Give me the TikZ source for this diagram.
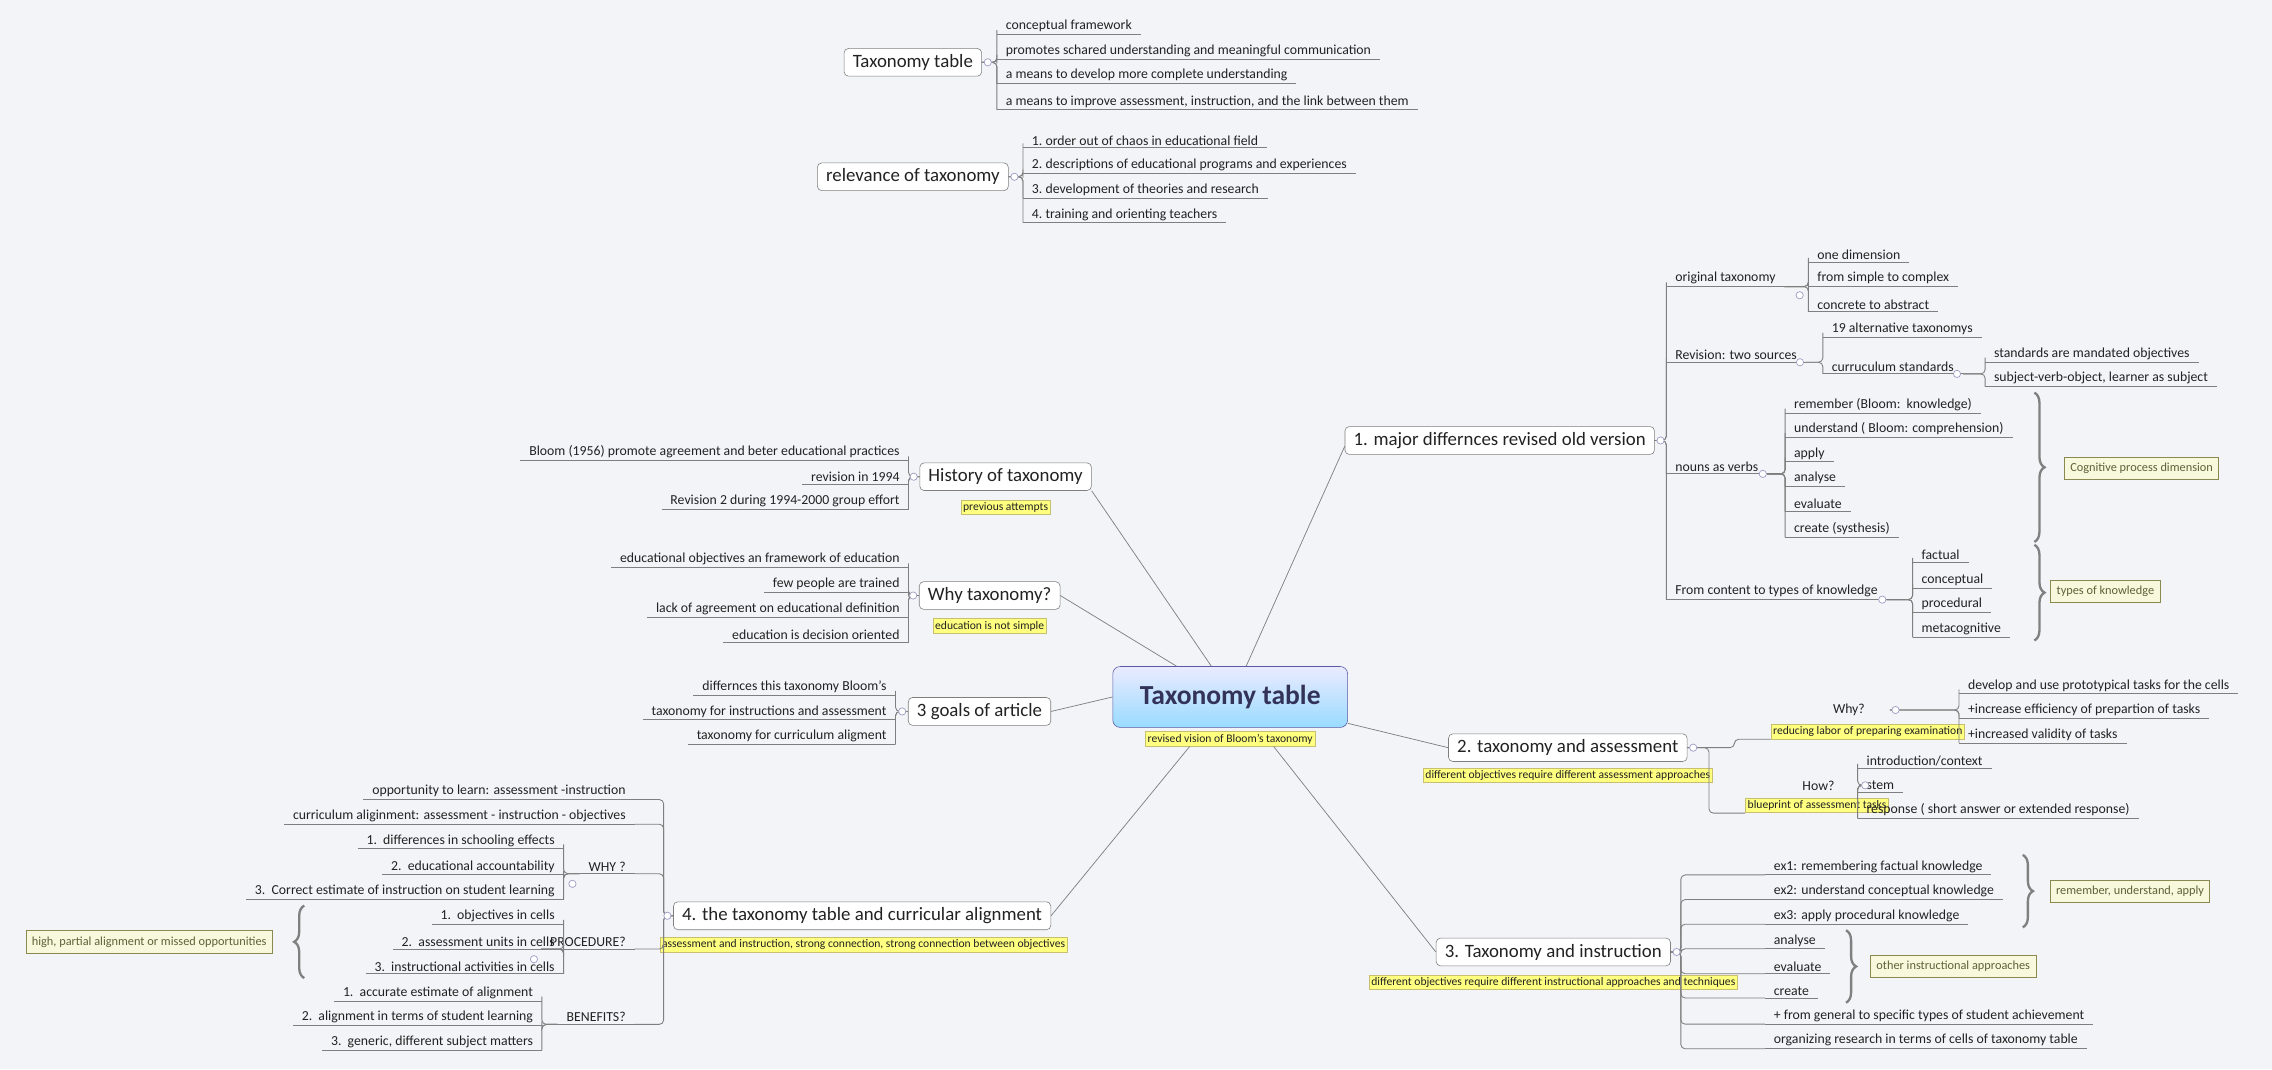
\documentclass[tikz,border=0pt]{standalone}
\usepackage{fontspec}
\setmainfont{Carlito}
\usetikzlibrary{decorations.pathreplacing}
\definecolor{bgc}{HTML}{F3F4F8}
\definecolor{lnc}{HTML}{7F7F7F}
\definecolor{txc}{HTML}{222222}
\definecolor{notef}{HTML}{FFFF80}
\definecolor{noted}{HTML}{C8C070}
\definecolor{sumf}{HTML}{F8F8DC}
\definecolor{sumd}{HTML}{8A8A50}
\tikzset{
  leaf/.style={anchor=west,inner xsep=6pt,inner ysep=1.5pt,text=txc,font=\fontsize{9.5}{11}\selectfont,
    append after command={(\tikzlastnode.south west) edge[draw=lnc,line width=0.6pt] (\tikzlastnode.south east)}},
  lleaf/.style={leaf,anchor=east},
  boxst/.style={draw=lnc,rounded corners=3pt,fill=white,text=txc,inner xsep=6pt,inner ysep=4pt,font=\fontsize{13}{15}\selectfont},
  note/.style={fill=notef,draw=noted,line width=0.5pt,inner sep=1.5pt,text=txc,font=\fontsize{8}{9}\selectfont},
  sumst/.style={fill=sumf,draw=sumd,line width=0.5pt,inner sep=4pt,text=sumd!70!black,font=\fontsize{8.5}{10}\selectfont},
  conn/.style={draw=lnc,line width=0.6pt,rounded corners=3pt},
  mline/.style={draw=lnc,line width=0.5pt},
  tog/.style={circle,draw=blue!25!gray!60,fill=white,inner sep=0pt,minimum size=5pt,line width=0.5pt},
  brc/.style={draw=gray,line width=1.6pt,decorate,decoration={brace,amplitude=7pt}}
}
\newcommand\rbr[3]{\draw[conn] (#1) -| ([xshift=-#3]#2.south west) -- (#2.south west);}
\newcommand\lbr[3]{\draw[conn] (#1) -| ([xshift=#3]#2.south east) -- (#2.south east);}
\begin{document}
\begin{tikzpicture}[x=1pt,y=-1pt]
\fill[bgc] (0,0) rectangle (1568,738);
\useasboundingbox (0,0) rectangle (1568,738);
% central
\node[draw=blue!30!gray,rounded corners=5pt,top color=blue!8,bottom color=blue!35!cyan!40,minimum width=162pt,minimum height=42pt,text=black!75!blue!60!gray,font=\fontsize{19}{21}\selectfont\bfseries] (m) at (849,481) {Taxonomy table};
\node[note] (mn) at (849,510) {revised vision of Bloom's taxonomy};
% top floating
\node[boxst] (tt) at (630,43) {Taxonomy table};
\node[leaf] (t1) at (688,18) {conceptual framework};
\node[leaf] (t2) at (688,35) {promotes schared understanding and meaningful communication};
\node[leaf] (t3) at (688,52) {a means to develop more complete understanding};
\node[leaf] (t4) at (688,70) {a means to improve assessment, instruction, and the link between them};
\foreach \c in {t1,t2,t3,t4}{\rbr{tt.east}{\c}{0}}
\node[tog] at ([xshift=4]tt.east) {};
\node[boxst] (rel) at (630,122) {relevance of taxonomy};
\node[leaf] (r1) at (706,97) {1.\ order out of chaos in educational field};
\node[leaf] (r2) at (706,114) {2.\ descriptions of educational programs and experiences};
\node[leaf] (r3) at (706,131) {3.\ development of theories and research};
\node[leaf] (r4) at (706,148) {4.\ training and orienting teachers};
\foreach \c in {r1,r2,r3,r4}{\rbr{rel.east}{\c}{0}}
\node[tog] at ([xshift=4]rel.east) {};
% branch 1
\node[boxst] (b1) at (1035,304) {1. major differnces revised old version};
\node[leaf] (ot) at (1150,192) {original taxonomy};
\node[leaf] (rv) at (1150,245) {Revision: two sources};
\node[leaf] (nv) at (1150,322) {nouns as verbs};
\node[leaf] (fc) at (1150,408) {From content to types of knowledge};
\foreach \c in {ot,rv,nv,fc}{\rbr{b1.east}{\c}{0}}
\node[tog] at ([xshift=4]b1.east) {};
\node[leaf] (o1) at (1248,176) {one dimension};
\node[leaf] (o2) at (1248,192) {from simple to complex};
\node[leaf] (o3) at (1248,210) {concrete to abstract};
\foreach \c in {o1,o2,o3}{\rbr{ot.south east}{\c}{0}}
\node[tog] at ([xshift=-6,yshift=-6]o2.south west) {};
\node[leaf] (v1) at (1258,227) {19 alternative taxonomys};
\node[leaf] (cs) at (1258,253) {curruculum standards};
\foreach \c in {v1,cs}{\rbr{rv.south east}{\c}{0}}
\node[tog] at ([xshift=-4]rv.south east) {};
\node[leaf] (s1) at (1370,244) {standards are mandated objectives};
\node[leaf] (s2) at (1370,261) {subject-verb-object, learner as subject};
\foreach \c in {s1,s2}{\rbr{cs.south east}{\c}{0}}
\node[tog] at ([xshift=-4]cs.south east) {};
\node[leaf] (n1) at (1232,279) {remember (Bloom:\ \ knowledge)};
\node[leaf] (n2) at (1232,296) {understand ( Bloom: comprehension)};
\node[leaf] (n3) at (1232,313) {apply};
\node[leaf] (n4) at (1232,330) {analyse};
\node[leaf] (n5) at (1232,348) {evaluate};
\node[leaf] (n6) at (1232,365) {create (systhesis)};
\foreach \c in {n1,n2,n3,n4,n5,n6}{\rbr{nv.south east}{\c}{0}}
\node[tog] at ([xshift=-3]nv.south east) {};
\node[leaf] (k1) at (1320,383) {factual};
\node[leaf] (k2) at (1320,400) {conceptual};
\node[leaf] (k3) at (1320,417) {procedural};
\node[leaf] (k4) at (1320,434) {metacognitive};
\foreach \c in {k1,k2,k3,k4}{\rbr{fc.south east}{\c}{0}}
\node[tog] at ([xshift=-3]fc.south east) {};
\draw[brc] (1404,271) -- (1404,374);
\node[sumst] (cp) at (1478,323) {Cognitive process dimension};
\draw[brc] (1404,376) -- (1404,442);
\node[sumst] (tk) at (1453,408) {types of knowledge};
% branch 2
\node[boxst] (b2) at (1082,516) {2. taxonomy and assessment};
\node[note] (n2n) at (1082,535) {different objectives require different assessment approaches};
\node[inner sep=1pt,text=txc,font=\fontsize{9.5}{11}\selectfont] (why) at (1276,490) {Why?};
\node[note] (wn) at (1289,505) {reducing labor of preparing examination};
\node[inner sep=1pt,text=txc,font=\fontsize{9.5}{11}\selectfont] (how) at (1255,542) {How?};
\node[note] (hn) at (1254,556) {blueprint of assessment tasks};
\rbr{b2.east}{wn}{25}
\rbr{b2.east}{hn}{25}
\node[tog] at ([xshift=4]b2.east) {};
\node[leaf] (w1) at (1352,473) {develop and use prototypical tasks for the cells};
\node[leaf] (w2) at (1352,490) {+increase efficiency of prepartion of tasks};
\node[leaf] (w3) at (1352,507) {+increased validity of tasks};
\foreach \c in {w1,w2,w3}{\rbr{[xshift=16]why.east}{\c}{0}}
\node[tog] at ([xshift=20]why.east) {};
\node[leaf] (h1) at (1282,525) {introduction/context};
\node[leaf] (h2) at (1282,542) {stem};
\node[leaf] (h3) at (1282,559) {response ( short answer or extended response)};
\foreach \c in {h1,h2,h3}{\rbr{[xshift=16]how.east}{\c}{0}}
\node[tog] at ([xshift=20]how.east) {};
% branch 3
\node[boxst] (b3) at (1072,657) {3. Taxonomy and instruction};
\node[note] (n3n) at (1072,678) {different objectives require different instructional approaches and techniques};
\node[leaf] (e1) at (1218,598) {ex1: remembering factual knowledge};
\node[leaf] (e2) at (1218,615) {ex2: understand conceptual knowledge};
\node[leaf] (e3) at (1218,632) {ex3: apply procedural knowledge};
\node[leaf] (e4) at (1218,649) {analyse};
\node[leaf] (e5) at (1218,667) {evaluate};
\node[leaf] (e6) at (1218,684) {create};
\node[leaf] (e7) at (1218,701) {+ from general to specific types of student achievement};
\node[leaf] (e8) at (1218,718) {organizing research in terms of cells of taxonomy table};
\foreach \c in {e1,e2,e3,e4,e5,e6,e7,e8}{\rbr{b3.east}{\c}{58}}
\node[tog] at ([xshift=4]b3.east) {};
\draw[brc] (1396,590) -- (1396,640);
\node[sumst] (ru) at (1470,615) {remember, understand, apply};
\draw[brc] (1274,642) -- (1274,692);
\node[sumst] (oi) at (1348,667) {other instructional approaches};
% branch 4
\node[boxst] (b4) at (595,632) {4. the taxonomy table and curricular alignment};
\node[note] (n4n) at (596,652) {assessment and instruction, strong connection, strong connection between objectives};
\node[lleaf] (p1) at (438,546) {opportunity to learn: assessment -instruction};
\node[lleaf] (p2) at (438,563) {curriculum aliginment: assessment - instruction - objectives};
\node[lleaf] (wy) at (438,598) {WHY ?};
\node[lleaf] (pr) at (438,650) {PROCEDURE?};
\node[lleaf] (bn) at (438,702) {BENEFITS?};
\foreach \c in {p1,p2,wy,pr,bn}{\lbr{b4.west}{\c}{20}}
\node[tog] at ([xshift=-4]b4.west) {};
\node[lleaf] (y1) at (389,580) {1.\ \ differences in schooling effects};
\node[lleaf] (y2) at (389,598) {2.\ \ educational accountability};
\node[lleaf] (y3) at (389,615) {3.\ \ Correct estimate of instruction on student learning};
\foreach \c in {y1,y2,y3}{\lbr{wy.south west}{\c}{0}}
\node[tog] at ([xshift=-5,yshift=-7]wy.south west) {};
\node[lleaf] (q1) at (389,632) {1.\ \ objectives in cells};
\node[lleaf] (q2) at (389,650) {2.\ \ assessment units in cells};
\node[lleaf] (q3) at (389,667) {3.\ \ instructional activities in cells};
\foreach \c in {q1,q2,q3}{\lbr{pr.south west}{\c}{0}}
\node[tog] at ([xshift=-5,yshift=-7]pr.south west) {};
\node[lleaf] (z1) at (374,685) {1.\ \ accurate estimate of alignment};
\node[lleaf] (z2) at (374,702) {2.\ \ alignment in terms of student learning};
\node[lleaf] (z3) at (374,719) {3.\ \ generic, different subject matters};
\foreach \c in {z1,z2,z3}{\lbr{bn.south west}{\c}{0}}
\draw[brc] (210,675) -- (210,625);
\node[sumst] (hp) at (103,650) {high, partial alignment or missed opportunities};
% history
\node[boxst] (hi) at (694,329) {History of taxonomy};
\node[note] (hin) at (694,350) {previous attempts};
\node[lleaf] (a1) at (627,312) {Bloom (1956) promote agreement and beter educational practices};
\node[lleaf] (a2) at (627,329) {revision in 1994};
\node[lleaf] (a3) at (627,346) {Revision 2 during 1994-2000 group effort};
\foreach \c in {a1,a2,a3}{\lbr{hi.west}{\c}{0}}
\node[tog] at ([xshift=-4]hi.west) {};
% why taxonomy
\node[boxst] (wt) at (683,411) {Why taxonomy?};
\node[note] (wtn) at (683,432) {education is not simple};
\node[lleaf] (d1) at (627,386) {educational objectives an framework of education};
\node[lleaf] (d2) at (627,403) {few people are trained};
\node[lleaf] (d3) at (627,420) {lack of agreement on educational definition};
\node[lleaf] (d4) at (627,438) {education is decision oriented};
\foreach \c in {d1,d2,d3,d4}{\lbr{wt.west}{\c}{0}}
\node[tog] at ([xshift=-4]wt.west) {};
% goals
\node[boxst] (g) at (676,491) {3 goals of article};
\node[lleaf] (g1) at (618,474) {differnces this taxonomy Bloom's};
\node[lleaf] (g2) at (618,491) {taxonomy for instructions and assessment};
\node[lleaf] (g3) at (618,508) {taxonomy for curriculum aligment};
\foreach \c in {g1,g2,g3}{\lbr{g.west}{\c}{0}}
\node[tog] at ([xshift=-4]g.west) {};
% main lines
\draw[mline] ([xshift=11]m.north) -- ([yshift=-4]b1.west);
\draw[mline] ([xshift=-13]m.north) -- (hi.south east);
\draw[mline] ([xshift=-37]m.north) -- (wt.east);
\draw[mline] (m.west) -- (g.east);
\draw[mline] ([yshift=3]m.south east) -- (b2.west);
\draw[mline] ([xshift=30]mn.south) -- (b3.west);
\draw[mline] ([xshift=-28]mn.south) -- (b4.east);
\end{tikzpicture}
\end{document}
